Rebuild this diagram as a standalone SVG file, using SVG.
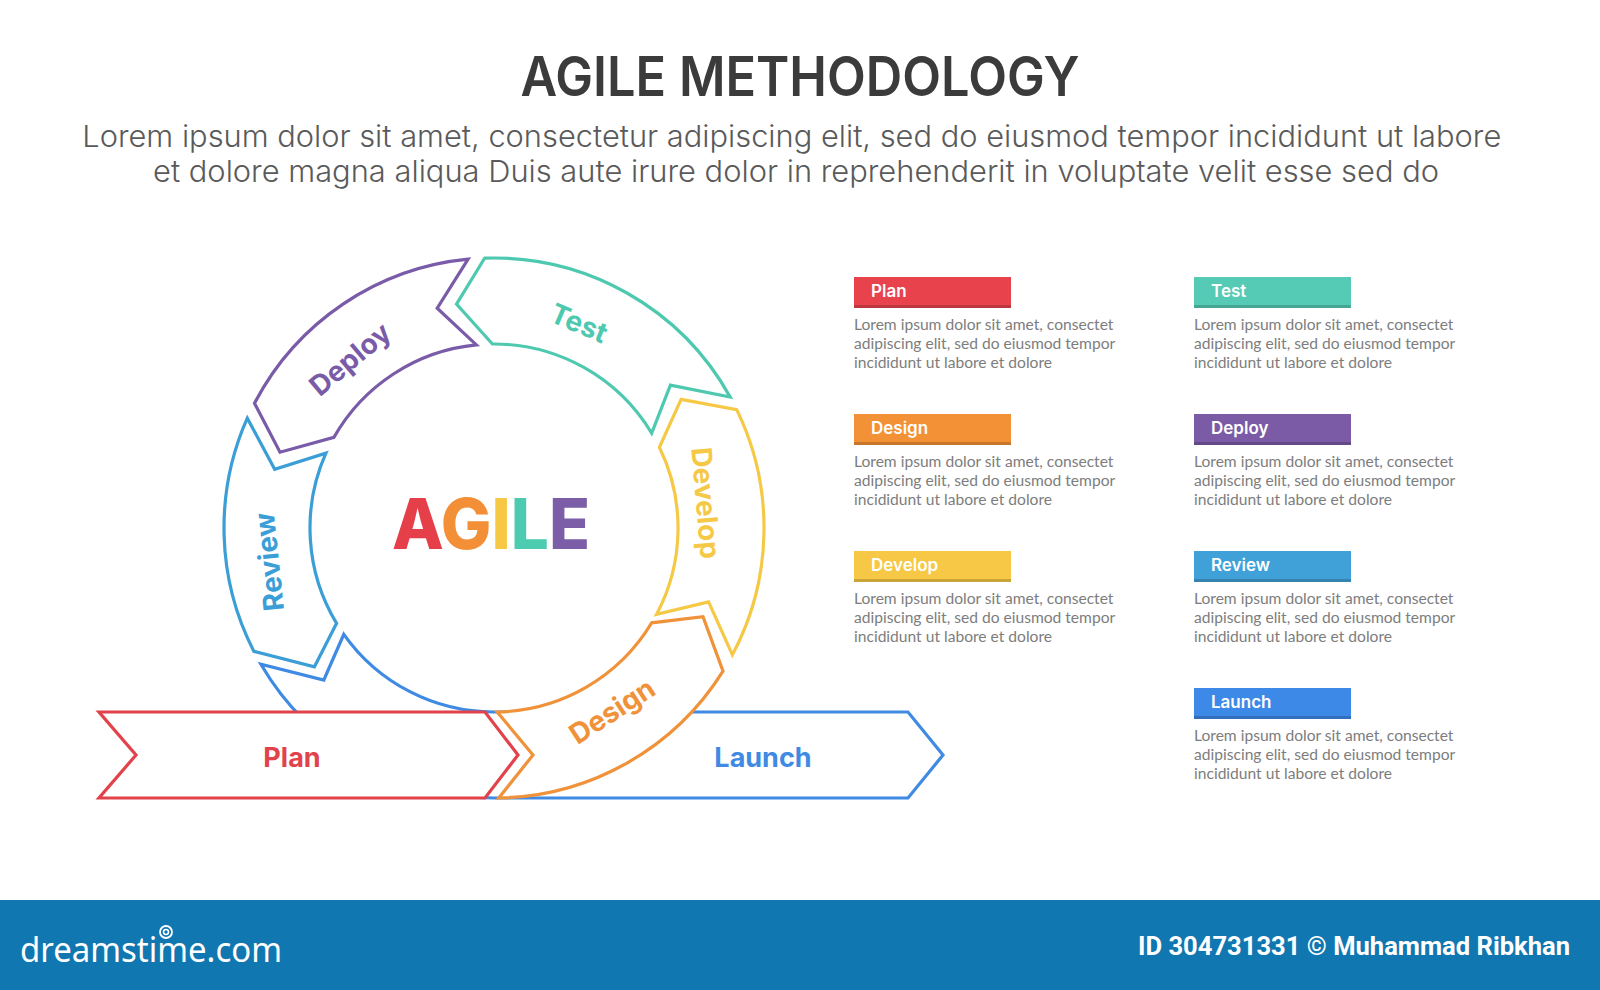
<svg xmlns="http://www.w3.org/2000/svg" width="1600" height="990" viewBox="0 0 1600 990">
<style>
.seg{fill:#fff;stroke-width:3.2;stroke-linejoin:miter}
.lbl{font-family:Inter,"Noto Sans",sans-serif;font-weight:700;font-size:28px;text-anchor:middle;dominant-baseline:central}
.big{font-family:Inter,"Noto Sans",sans-serif;font-weight:700;font-size:27px;text-anchor:middle}
.tag{font-family:Inter,"Noto Sans",sans-serif;font-weight:600;font-size:17px;fill:#fff}
.body{font-family:Lato,"Liberation Sans",sans-serif;font-size:15.6px;fill:#7d7d7d}
.strip{opacity:.18;fill:#000}
</style>
<rect x="0" y="0" width="1600" height="990" fill="#fff"/>
<g id="header">
<text x="800" y="96" font-family="Inter,'Noto Sans',sans-serif" font-weight="600" font-size="55" fill="#3b3b3b" text-anchor="middle" textLength="559" lengthAdjust="spacingAndGlyphs">AGILE METHODOLOGY</text>
<text font-family="Inter,'Noto Sans',sans-serif" font-weight="300" font-size="30" fill="#5a5a5a" text-anchor="middle">
<tspan x="796" y="147" textLength="1419" lengthAdjust="spacingAndGlyphs">Lorem ipsum dolor sit amet, consectetur adipiscing elit, sed do eiusmod tempor incididunt ut labore</tspan>
<tspan x="796" y="182" textLength="1286" lengthAdjust="spacingAndGlyphs">et dolore magna aliqua Duis aute irure dolor in reprehenderit in voluptate velit esse sed do</tspan>
</text>
</g>
<g id="launch">
<path class="seg" stroke="#3f8ae3" d="M260.9,664.2 A270,270 0 0 0 494,798 L908,798 L943,755 L908,712 L494,712 A184,184 0 0 1 343.8,634.3 L323.8,680 Z"/>
<text class="big" x="763" y="767" fill="#3f8ae3">Launch</text>
</g>
<g id="plan">
<path class="seg" stroke="#e2424a" d="M99,712 L485,712 L518,755 L485,798 L99,798 L136,755 Z"/>
<text class="big" x="292" y="767" fill="#e2424a">Plan</text>
</g>
<g id="design">
<path class="seg" stroke="#f0923a" d="M498.7,798 A270,270 0 0 0 723,671.1 L703,616.7 L651.7,622.8 A184,184 0 0 1 497.2,712 L533,755 Z"/>
<text class="lbl" fill="#f0923a" transform="translate(612,711) rotate(-33)">Design</text>
</g>
<g id="develop">
<path class="seg" stroke="#f5c946" d="M732.4,654.8 A270,270 0 0 0 736.7,409.6 L681.1,399.4 L659.4,447.3 A184,184 0 0 1 656.5,614.4 L708.6,601.9 Z"/>
<text class="lbl" fill="#f5c946" transform="translate(706,503) rotate(85)">Develop</text>
</g>
<g id="test">
<path class="seg" stroke="#4ec9b0" d="M730.2,397.1 A270,270 0 0 0 484.6,258.2 L456.5,304.1 L492.4,344 A184,184 0 0 1 651.7,433.2 L670.4,385.1 Z"/>
<text class="lbl" fill="#4ec9b0" transform="translate(579,323) rotate(23)">Test</text>
</g>
<g id="deploy">
<path class="seg" stroke="#7a5ba8" d="M468.1,259.2 A270,270 0 0 0 254.5,403.3 L280,452.2 L333.9,437.4 A184,184 0 0 1 476.4,344.9 L437.2,308.2 Z"/>
<text class="lbl" fill="#7a5ba8" transform="translate(350,359) rotate(-40)">Deploy</text>
</g>
<g id="review">
<path class="seg" stroke="#3b9ed6" d="M247.3,418.2 A270,270 0 0 0 253.9,651.4 L314.4,666.8 L336.6,623.3 A184,184 0 0 1 325.9,453.2 L274.7,469.3 Z"/>
<text class="lbl" fill="#3b9ed6" transform="translate(269,562) rotate(-96)">Review</text>
</g>
<g id="agile-center">
<text x="491" y="549" font-family="Inter,'Noto Sans',sans-serif" font-weight="800" font-size="70" text-anchor="middle" textLength="198" lengthAdjust="spacingAndGlyphs"><tspan fill="#e5404a">A</tspan><tspan fill="#f39037">G</tspan><tspan fill="#f7c843">I</tspan><tspan fill="#4dcbb0">L</tspan><tspan fill="#7b5ea7">E</tspan></text>
</g>
<g id="connectors"></g>
<g id="card-plan">
<rect x="854" y="277" width="157" height="31" fill="#e8434d"/><rect class="strip" x="854" y="305" width="157" height="3"/>
<text class="tag" x="871" y="297">Plan</text>
<text class="body"><tspan x="854" y="330">Lorem ipsum dolor sit amet, consectet</tspan><tspan x="854" y="349">adipiscing elit, sed do eiusmod tempor</tspan><tspan x="854" y="368">incididunt ut labore et dolore</tspan></text>
</g>
<g id="card-design">
<rect x="854" y="414" width="157" height="31" fill="#f39136"/><rect class="strip" x="854" y="442" width="157" height="3"/>
<text class="tag" x="871" y="434">Design</text>
<text class="body"><tspan x="854" y="467">Lorem ipsum dolor sit amet, consectet</tspan><tspan x="854" y="486">adipiscing elit, sed do eiusmod tempor</tspan><tspan x="854" y="505">incididunt ut labore et dolore</tspan></text>
</g>
<g id="card-develop">
<rect x="854" y="551" width="157" height="31" fill="#f6c845"/><rect class="strip" x="854" y="579" width="157" height="3"/>
<text class="tag" x="871" y="571">Develop</text>
<text class="body"><tspan x="854" y="604">Lorem ipsum dolor sit amet, consectet</tspan><tspan x="854" y="623">adipiscing elit, sed do eiusmod tempor</tspan><tspan x="854" y="642">incididunt ut labore et dolore</tspan></text>
</g>
<g id="card-test">
<rect x="1194" y="277" width="157" height="31" fill="#55cbb5"/><rect class="strip" x="1194" y="305" width="157" height="3"/>
<text class="tag" x="1211" y="297">Test</text>
<text class="body"><tspan x="1194" y="330">Lorem ipsum dolor sit amet, consectet</tspan><tspan x="1194" y="349">adipiscing elit, sed do eiusmod tempor</tspan><tspan x="1194" y="368">incididunt ut labore et dolore</tspan></text>
</g>
<g id="card-deploy">
<rect x="1194" y="414" width="157" height="31" fill="#7b5aa6"/><rect class="strip" x="1194" y="442" width="157" height="3"/>
<text class="tag" x="1211" y="434">Deploy</text>
<text class="body"><tspan x="1194" y="467">Lorem ipsum dolor sit amet, consectet</tspan><tspan x="1194" y="486">adipiscing elit, sed do eiusmod tempor</tspan><tspan x="1194" y="505">incididunt ut labore et dolore</tspan></text>
</g>
<g id="card-review">
<rect x="1194" y="551" width="157" height="31" fill="#40a0d8"/><rect class="strip" x="1194" y="579" width="157" height="3"/>
<text class="tag" x="1211" y="571">Review</text>
<text class="body"><tspan x="1194" y="604">Lorem ipsum dolor sit amet, consectet</tspan><tspan x="1194" y="623">adipiscing elit, sed do eiusmod tempor</tspan><tspan x="1194" y="642">incididunt ut labore et dolore</tspan></text>
</g>
<g id="card-launch">
<rect x="1194" y="688" width="157" height="31" fill="#3d89e8"/><rect class="strip" x="1194" y="716" width="157" height="3"/>
<text class="tag" x="1211" y="708">Launch</text>
<text class="body"><tspan x="1194" y="741">Lorem ipsum dolor sit amet, consectet</tspan><tspan x="1194" y="760">adipiscing elit, sed do eiusmod tempor</tspan><tspan x="1194" y="779">incididunt ut labore et dolore</tspan></text>
</g>
<g id="footer">
<rect x="0" y="900" width="1600" height="90" fill="#1177b1"/>
<text x="20" y="962" font-family="'Noto Sans',sans-serif" font-size="35" fill="#fff" textLength="262" lengthAdjust="spacingAndGlyphs">dreamstime.com</text>
<circle cx="166" cy="932" r="6" fill="none" stroke="#fff" stroke-width="1.8"/>
<circle cx="166" cy="932" r="2.5" fill="none" stroke="#fff" stroke-width="1.5"/>
<text x="1138" y="955" font-family="Roboto,'Liberation Sans',sans-serif" font-weight="700" font-size="26" fill="#fff" textLength="432" lengthAdjust="spacingAndGlyphs">ID 304731331 © Muhammad Ribkhan</text>
</g>
</svg>
